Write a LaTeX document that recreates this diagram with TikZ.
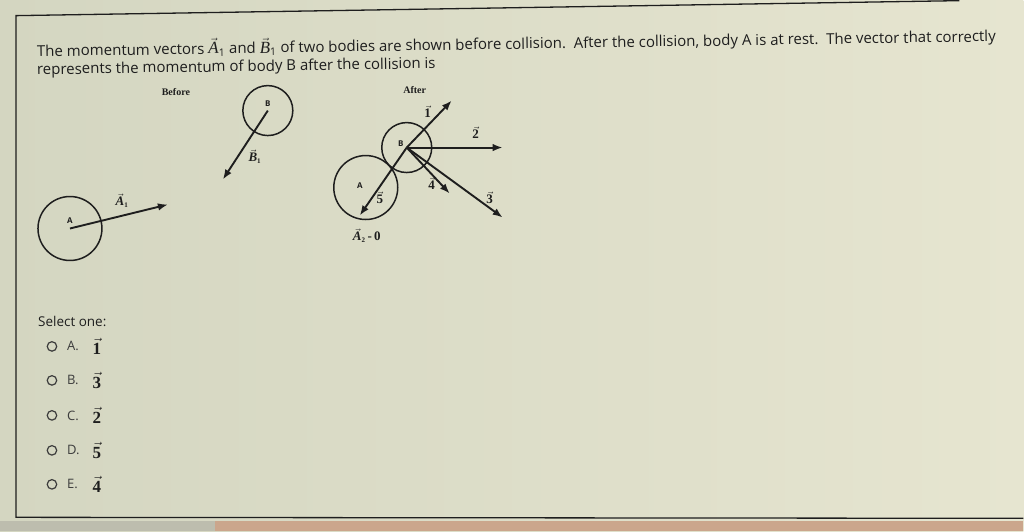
\documentclass[tikz,border=0pt]{standalone}
\usepackage{fontspec}
\setmainfont{Open Sans}
\newfontfamily\serifnum{Liberation Serif}
\usetikzlibrary{arrows.meta}
\definecolor{bgL}{HTML}{D4D6C1}
\definecolor{bgR}{HTML}{E6E5D0}
\definecolor{ink}{HTML}{1E1E1E}
\definecolor{optgrey}{HTML}{3C3C3C}
\definecolor{stripL}{HTML}{BDBDAE}
\definecolor{stripR}{HTML}{CBA68C}
\newcommand{\vnum}[1]{\ensuremath{\vec{\hbox{\serifnum\bfseries #1}}}}
\newcommand{\vlet}[2]{\ensuremath{\vec{\hbox{\serifnum\itshape\fontsize{17}{18}\selectfont #1}}_{\mathrm{#2}}}}
\newcommand{\vletb}[2]{\ensuremath{\vec{\hbox{\serifnum\bfseries\itshape #1}}_{\hbox{\serifnum\bfseries\fontsize{7}{7}\selectfont #2}}}}
\begin{document}
\begin{tikzpicture}[x=1pt,y=-1pt,
  vecarrow/.style={draw=ink, line width=1.9pt, -{Latex[length=10pt,width=7.5pt]}},
  body/.style={draw=ink, line width=1.5pt, circle, inner sep=0pt},
  bodylabel/.style={font=\fontsize{8}{9}\selectfont\bfseries, text=ink, inner sep=0pt},
  veclabel/.style={font=\fontsize{13}{14}\selectfont, text=ink, inner sep=0pt},
  headlabel/.style={font=\serifnum\bfseries\fontsize{10}{11}\selectfont, text=ink, inner sep=0pt},
  maintext/.style={font=\fontsize{15}{17}\selectfont, text=ink, inner sep=0pt},
  radio/.style={draw=optgrey, line width=1.2pt, circle, minimum size=9.5pt, inner sep=0pt},
  optletter/.style={font=\fontsize{13}{14}\selectfont, text=optgrey, inner sep=0pt, anchor=west},
  optnum/.style={font=\fontsize{17}{18}\selectfont, text=ink, inner sep=0pt}]
% background
\shade[left color=bgL, right color=bgR] (0,0) rectangle (1024,531);
\fill[stripL] (0,521) rectangle (215,531);
\fill[stripR] (215,521) rectangle (1024,531);
% frame
\draw[ink, line width=1.3pt] (960,0) -- (16,15) -- (16,517) -- (1024,518);
% title
\node[maintext, anchor=base west, rotate=0.9] (t1) at (37,56)
  {The momentum vectors \vlet{A}{1} and \vlet{B}{1} of two bodies are shown before collision.\ \ After the collision, body A is at rest.\ \ The vector that correctly};
\node[maintext, anchor=base west, rotate=0.9] (t2) at (37,74)
  {represents the momentum of body B after the collision is};
% Before diagram
\node[headlabel] (before) at (176,91) {Before};
\node[body, minimum size=50pt] (Bb) at (268,110) {};
\node[bodylabel] (Bblab) at (268,103) {B};
\coordinate (B1tip) at (223,179);
\draw[vecarrow] (Bb.center) -- (B1tip);
\node[veclabel] (B1lab) at (255,156) {\vletb{B}{1}};
\node[body, minimum size=64pt] (Ab) at (70,228) {};
\node[bodylabel] (Ablab) at (70,220) {A};
\coordinate (A1tip) at (168,204);
\draw[vecarrow] (Ab.center) -- (A1tip);
\node[veclabel] (A1lab) at (122,200) {\vletb{A}{1}};
% After diagram
\node[headlabel] (after) at (415,89) {After};
\node[body, minimum size=50pt] (Ba) at (407,147) {};
\node[body, minimum size=64pt] (Aa) at (366,187) {};
\node[bodylabel] (Balab) at (401,143) {B};
\node[bodylabel] (Aalab) at (360,185) {A};
\coordinate (t1tip) at (452,100);
\coordinate (t2tip) at (503,147);
\coordinate (t3tip) at (503,217);
\coordinate (t4tip) at (450,193);
\coordinate (t5tip) at (360,215);
\draw[vecarrow] (Ba.center) -- (t1tip);
\draw[vecarrow] (Ba.center) -- (t2tip);
\draw[vecarrow] (Ba.center) -- (t3tip);
\draw[vecarrow] (Ba.center) -- (t4tip);
\draw[vecarrow] (Ba.center) -- (t5tip);
\node[veclabel] (l1) at (428,111) {\vnum{1}};
\node[veclabel] (l2) at (476,132) {\vnum{2}};
\node[veclabel] (l3) at (490,197) {\vnum{3}};
\node[veclabel] (l4) at (432,183) {\vnum{4}};
\node[veclabel] (l5) at (380,197) {\vnum{5}};
\node[veclabel] (A2lab) at (367,235) {\vletb{A}{2}\,{\serifnum\bfseries -\,0}};
% options
\node[maintext, anchor=west, font=\fontsize{13.5}{15}\selectfont] (sel) at (38,321) {Select one:};
\node[radio] (rA) at (52,346) {};
\node[radio] (rB) at (52,380) {};
\node[radio] (rC) at (52,415) {};
\node[radio] (rD) at (52,450) {};
\node[radio] (rE) at (52,484) {};
\node[optletter] (oA) at (67,346) {A.};
\node[optletter] (oB) at (67,380) {B.};
\node[optletter] (oC) at (67,415) {C.};
\node[optletter] (oD) at (67,450) {D.};
\node[optletter] (oE) at (67,484) {E.};
\node[optnum] (nA) at (97,346) {\vnum{1}};
\node[optnum] (nB) at (97,380) {\vnum{3}};
\node[optnum] (nC) at (97,415) {\vnum{2}};
\node[optnum] (nD) at (97,450) {\vnum{5}};
\node[optnum] (nE) at (97,484) {\vnum{4}};
\end{tikzpicture}
\end{document}
